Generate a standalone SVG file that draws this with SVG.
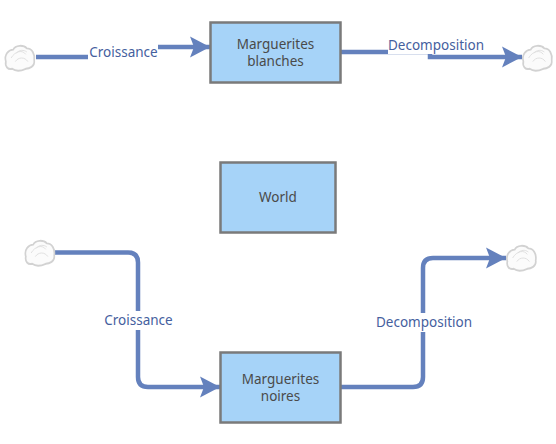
<svg xmlns="http://www.w3.org/2000/svg" width="556" height="444" viewBox="0 0 556 444">
<style>
text{font-family:"Noto Sans",sans-serif;text-anchor:middle}
.box rect{fill:#a6d3f8;stroke:#7a7a7a;stroke-width:2.5}
.box text{font-size:13.5px;fill:#4a4a4a}
.flow{fill:none;stroke:#6481bd;stroke-width:4.500}
.lbl{font-size:13.5px;fill:#45609e}
.bg{fill:#fff}
.cb{fill:#fbfbfb;stroke:#d2d2d2;stroke-width:1.600}
.cd{fill:none;stroke:#dedede;stroke-width:.8}
</style>
<defs>
<marker id="a" markerUnits="userSpaceOnUse" markerWidth="24" markerHeight="24" refX="20" refY="12" orient="auto"><path d="M0 1.500L20 12L0 22.500L4 12Z" fill="#6481bd"/></marker>
<path id="c" d="M-13 3C-15-3-10-7-6-7C-4-11 4-11 7-8C12-8 15-3 14 2C15 7 9 9 6 9C1 11-4 11-7 9C-11 10-14 7-13 3Z"/>
<path id="d" d="M-8 0C-4-6 3-7 6-3M-4 3C-1-1 5-1 8 3M-3-4C0-7 4-7 7-5"/>
</defs>
<g id="connectors">
<path class="flow" marker-end="url(#a)" d="M36 57H123V47H210"/>
<path class="flow" marker-end="url(#a)" d="M341 52H430V57H522"/>
<path class="flow" marker-end="url(#a)" d="M55 252.500H128Q138 252.500 138 262.500V377Q138 387 148 387H220"/>
<path class="flow" marker-end="url(#a)" d="M341 387H413Q423 387 423 377V268Q423 258 433 258H506"/>
<rect class="bg" x="88" y="42" width="70" height="20"/>
<rect class="bg" x="388" y="36" width="96" height="18"/>
<rect class="bg" x="104" y="311" width="69" height="19"/>
<rect class="bg" x="377" y="313" width="94" height="19"/>
<text class="lbl" x="123.500" y="57">Croissance</text>
<text class="lbl" x="436" y="50">Decomposition</text>
<text class="lbl" x="138.500" y="325">Croissance</text>
<text class="lbl" x="424" y="327">Decomposition</text>
</g>
<g id="cloud1" transform="translate(19.500 58) scale(1.05 1.2)"><use href="#c" class="cb"/><use href="#d" class="cd"/></g>
<g id="cloud2" transform="translate(537 58) scale(1.05 1.2)"><use href="#c" class="cb"/><use href="#d" class="cd"/></g>
<g id="cloud3" transform="translate(39.500 253) scale(1.05 1.2)"><use href="#c" class="cb"/><use href="#d" class="cd"/></g>
<g id="cloud4" transform="translate(521 258) scale(1.05 1.2)"><use href="#c" class="cb"/><use href="#d" class="cd"/></g>
<g id="blanches" class="box"><rect x="210.500" y="22.500" width="130" height="60"/><text x="275.500" y="49">Marguerites</text><text x="275.500" y="66">blanches</text></g>
<g id="world" class="box"><rect x="220.500" y="162.500" width="115" height="70"/><text x="278" y="202">World</text></g>
<g id="noires" class="box"><rect x="220.500" y="352.500" width="120" height="70"/><text x="280.500" y="384">Marguerites</text><text x="280.500" y="401">noires</text></g>
</svg>
